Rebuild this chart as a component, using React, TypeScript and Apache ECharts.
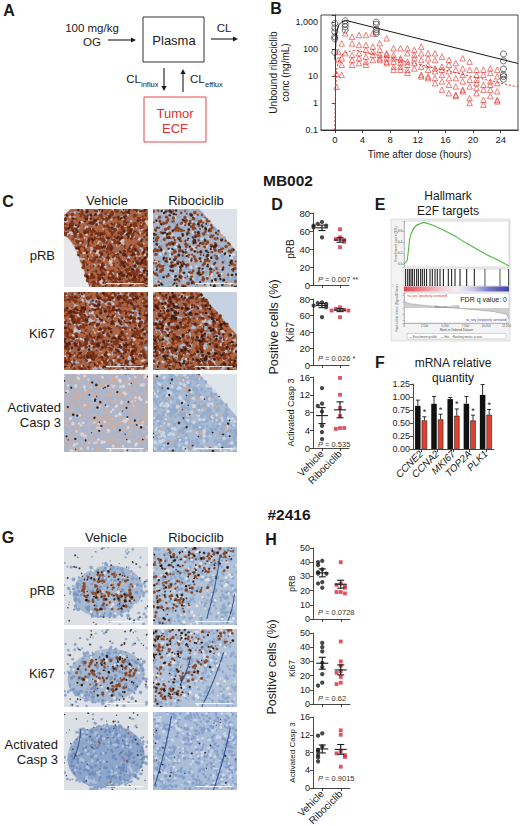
import React, { useEffect, useRef } from 'react';
import * as echarts from 'echarts';

const FONT = '"Liberation Sans", Arial, Helvetica, sans-serif';
const INK = '#1a1a1a';
const RED = '#e0322c';
const DOT_RED = '#d8283a';

// ---------------- Panel B : PK ----------------
const timeTicks = [0, 4, 8, 12, 16, 20, 24];
const concTicks = [0.1, 1, 10, 100, 1000];
const concTickLabels = ['0.1', '1', '10', '100', '1,000'];
const plasmaTimes = [0, 0, 0, 0, 0, 0, 1.5, 1.5, 1.5, 1.5, 6, 6, 6, 6, 6, 24.4, 24.4, 24.4, 24.4, 24.4, 24.4];
const plasmaConc = [880, 600, 430, 280, 240, 75, 1100, 830, 660, 500, 980, 820, 520, 430, 370, 65, 36, 18, 11, 9.5, 7.5];
const tumorTimes = [0.25, 0.5, 1, 1.5, 2.5, 3.5, 4.5, 5.5, 6.5, 7.5, 8.5, 9.5, 10.5, 11.5, 12.5, 13.5, 14.5, 15.5, 16.5, 17.5, 18.5, 19.5, 20.5, 21.5, 22.5, 23.5];
const tumorConc: number[][] = [
  [4, 12], [39, 80], [160, 45, 26, 11], [380, 70], [284, 160, 60, 39, 26], [327, 140, 69, 45, 30],
  [327, 140, 92, 52, 34, 26], [377, 122, 80, 60, 39], [162, 92, 60, 45, 39], [247, 69, 60, 45, 34, 30],
  [106, 60, 45, 34, 22, 17], [106, 45, 39, 30, 22, 17], [106, 69, 34, 26, 17, 13], [92, 60, 45, 30, 19],
  [122, 69, 39, 22, 11, 9.6], [69, 45, 26, 17, 9.6, 8.3], [69, 39, 19, 15, 8.3, 5.4], [52, 22, 17, 11, 6.3, 3.1],
  [39, 26, 15, 8.3, 4.7, 2.3], [30, 17, 8.3, 4.1, 2.0, 1.8], [45, 19, 11, 6.3, 3.1, 2.7], [34, 17, 7.2, 4.1, 1.5, 1.0],
  [17, 11, 7.2, 5.4, 3.6, 2.3], [17, 11, 4.7, 3.1, 1.3, 0.87], [19, 13, 6.3, 4.7, 3.1, 1.8], [17, 9.6, 5.4, 2.7, 1.3, 1.15],
];
const plasmaFitT = [0, 0.25, 0.6, 1, 1.5, 26.5];
const plasmaFitC = [40, 400, 800, 1000, 1150, 29];
const tumorFitT = [0, 0.05, 0.15, 0.3, 0.6, 1, 2, 3, 26.5];
const tumorFitC = [0.1, 1, 5, 20, 40, 60, 80, 90, 3.9];

// ---------------- Panels D / H : dot plots ----------------
const groups = ['Vehicle', 'Ribociclib'];
const mbPrbVeh = [70, 68, 66, 66, 64, 53];
const mbPrbRib = [62, 53, 51, 50, 48, 42];
const mbPrbMean = [63.5, 50];
const mbPrbSem = [3, 2.5];
const mbKiVeh = [76, 75, 74, 72, 70, 58];
const mbKiRib = [70, 68, 67, 66, 66, 58];
const mbKiMean = [72, 66.5];
const mbKiSem = [2.5, 1.8];
const mbCaspVeh = [13.5, 10, 9.5, 8.2, 5, 3.6, 2];
const mbCaspRib = [15.8, 12, 9, 7.2, 4.5, 4.3, 4.5];
const mbCaspMean = [7.3, 8.6];
const mbCaspSem = [1.8, 1.8];

const pdxPrbVeh = [41, 40, 38, 35, 33, 32, 32, 26, 25, 22];
const pdxPrbRib = [40, 25, 24, 23, 22, 19, 19, 18];
const pdxPrbMean = [32.5, 24.5];
const pdxPrbSem = [2.8, 2.8];
const pdxKiVeh = [43, 40, 37, 29, 26, 21, 15, 13];
const pdxKiRib = [44, 30, 27, 23, 22, 19, 15, 14];
const pdxKiMean = [28.7, 24];
const pdxKiSem = [4.2, 3.5];
const pdxCaspVeh = [12.3, 11.8, 9.3, 8.6, 8.2, 7.4, 6.9, 6];
const pdxCaspRib = [13, 12, 8.2, 7.8, 7.4, 7, 4.8];
const pdxCaspMean = [8.8, 8.7];
const pdxCaspSem = [0.9, 1.1];

// ---------------- Panel E : GSEA ----------------
const esRank = [0, 203, 365, 528, 732, 1016, 1422, 1951, 2357, 2966, 4186, 5811, 7843, 9874, 11500, 12800];
const esScore = [0, 0.04, 0.06, 0.24, 0.48, 0.6, 0.69, 0.73, 0.75, 0.73, 0.66, 0.54, 0.36, 0.19, 0.07, -0.03];
const hitRanks = [200, 450, 650, 850, 1020, 1260, 1545, 1750, 2030, 2235, 2480, 2760, 3170, 3450, 3780, 4060, 4390, 4800, 5400, 5810, 6220, 6830, 7640, 8570, 9870, 11700, 12740];
const metricRank = [0, 200, 640, 1920, 3840, 6080, 8320, 10880, 12480, 12800];
const metricValue = [0.7, 0.45, 0.35, 0.25, 0.12, 0, -0.12, -0.28, -0.5, -0.9];
const rankTicks = [0, 2500, 5000, 7500, 10000, 12500];

// ---------------- Panel F : qPCR ----------------
const genes = ['CCNE2', 'CCNA2', 'MKI67', 'TOP2A', 'PLK1'];
const vehicleRel = [0.83, 0.87, 0.96, 0.87, 1.04];
const vehicleErr = [0.11, 0.14, 0.03, 0.14, 0.2];
const riboRel = [0.55, 0.57, 0.64, 0.55, 0.66];
const riboErr = [0.07, 0.1, 0.13, 0.1, 0.1];

// ---------------- IHC tile styles ----------------
type Cell = [string, number, number, string];
type TileSpec = { seed: number; base: string; tissue: string; region: string; ell?: number[]; cells: Cell[]; lines?: number[][]; lineColor?: string };
const tilesC: TileSpec[] = [
  { seed: 11, base: '#e8e8eb', tissue: '#a3664e', region: 'cutBL', cells: [['#b5c2d6', 220, 1.6, 't'], ['#dcc6b6', 160, 1.4, 't'], ['#7e3419', 560, 1.6, 't'], ['#55200f', 240, 1.3, 't'], ['#b0653f', 200, 1.6, 't']] },
  { seed: 12, base: '#dde2ea', tissue: '#a4b5cc', region: 'cutTR', cells: [['#8ea5c4', 260, 1.6, 't'], ['#cfd8e4', 150, 1.4, 't'], ['#c9a592', 110, 1.4, 't'], ['#8a4222', 230, 1.4, 't'], ['#8a4222', 150, 1.4, 'tl'], ['#3a2418', 190, 1.2, 't']] },
  { seed: 13, base: '#e6e6ea', tissue: '#a3644d', region: 'full', cells: [['#a9b8d2', 300, 1.7, 't'], ['#dcc6b6', 120, 1.4, 't'], ['#7e3419', 560, 1.6, 't'], ['#55200f', 240, 1.3, 't'], ['#b0653f', 180, 1.6, 't']] },
  { seed: 14, base: '#c6d1e2', tissue: '#a46b57', region: 'cutTR', cells: [['#a9b8d2', 260, 1.7, 't'], ['#dcc6b6', 100, 1.4, 't'], ['#7e3419', 520, 1.6, 't'], ['#3a1c10', 240, 1.3, 't'], ['#b0653f', 170, 1.6, 't']] },
  { seed: 15, base: '#dcdde5', tissue: '#b6b5c3', region: 'full', cells: [['#a6b6d0', 420, 1.8, 't'], ['#c8b0a6', 180, 1.8, 't'], ['#dcd5d8', 100, 1.5, 't'], ['#2d2320', 45, 1.0, 't']] },
  { seed: 16, base: '#dfe3ea', tissue: '#a9bad3', region: 'cutTR', cells: [['#95abcc', 420, 1.7, 't'], ['#ccd6e5', 160, 1.6, 't'], ['#c4aaa0', 50, 1.5, 't'], ['#2d2320', 35, 1.0, 't']] },
];
const tilesG: TileSpec[] = [
  { seed: 21, base: '#dde1e5', tissue: '#a7b9d1', region: 'ellipse', ell: [0.52, 0.57, 0.42, 0.33], cells: [['#8ea6c8', 70, 1.2, 'a'], ['#3a3a42', 55, 0.8, 'a'], ['#8aa3c8', 200, 1.5, 'e'], ['#7c96c0', 200, 1.4, 't'], ['#e4e2e0', 60, 1.3, 't'], ['#8a4a2a', 260, 1.4, 'c'], ['#2b1a12', 150, 1.1, 'c'], ['#d0b090', 50, 1.1, 'c']] },
  { seed: 22, base: '#d8e0ea', tissue: '#b2c3da', region: 'full', cells: [['#8ea8cc', 330, 1.4, 't'], ['#e6e4e2', 90, 1.3, 't'], ['#8a4a2a', 220, 1.3, 'tl'], ['#2b1a12', 140, 1.0, 'tl']], lines: [[0.8, 0.1, 0.64, 0.92], [0.97, 0.6, 0.88, 0.98]], lineColor: '#2d4f8a' },
  { seed: 23, base: '#dde1e5', tissue: '#a7b9d1', region: 'ellipse', ell: [0.5, 0.6, 0.46, 0.34], cells: [['#8ea6c8', 70, 1.2, 'a'], ['#3a3a42', 55, 0.8, 'a'], ['#8aa3c8', 200, 1.5, 'e'], ['#7c96c0', 220, 1.4, 't'], ['#e4e2e0', 60, 1.3, 't'], ['#8a4a2a', 200, 1.4, 'c'], ['#2b1a12', 110, 1.1, 'c']] },
  { seed: 24, base: '#d8e0ea', tissue: '#b2c3da', region: 'full', cells: [['#8ea8cc', 330, 1.4, 't'], ['#e6e4e2', 90, 1.3, 't'], ['#8a4a2a', 220, 1.3, 'tl'], ['#2b1a12', 140, 1.0, 'tl']], lines: [[0.84, 0.3, 0.58, 1.0], [0.45, 0.35, 0.32, 0.72]], lineColor: '#2d4f8a' },
  { seed: 25, base: '#dbe0e5', tissue: '#8ea6c9', region: 'ellipse', ell: [0.5, 0.57, 0.46, 0.4], cells: [['#3a3a42', 55, 0.8, 'a'], ['#8ea6c8', 60, 1.2, 'a'], ['#8aa3c8', 200, 1.5, 'e'], ['#6f8bbb', 380, 1.3, 't'], ['#b0c2dc', 150, 1.3, 't'], ['#8a5a4a', 20, 1.1, 't']], lines: [[0.2, 0.22, 0.12, 0.6]], lineColor: '#2d4f8a' },
  { seed: 26, base: '#d6dfea', tissue: '#a9bdd9', region: 'full', cells: [['#86a0cb', 430, 1.3, 't'], ['#cdd8e7', 150, 1.3, 't'], ['#2a2a33', 25, 0.8, 't']], lines: [[0.22, 0.05, 0.02, 0.95], [0.92, 0.2, 0.72, 1.0]], lineColor: '#24478a' },
];

function lcg(seed: number) {
  let s = (seed * 2654435761) >>> 0;
  return () => {
    s = (Math.imul(s, 1664525) + 1013904223) >>> 0;
    return s / 4294967296;
  };
}

function makeTile(spec: TileSpec, w: number, h: number): string {
  const S = 3;
  const cv = document.createElement('canvas');
  cv.width = w * S;
  cv.height = h * S;
  const ctx = cv.getContext('2d');
  if (!ctx) return '';
  ctx.scale(S, S);
  const rand = lcg(spec.seed);
  ctx.fillStyle = spec.base;
  ctx.fillRect(0, 0, w, h);
  const ell = spec.ell || [0.5, 0.5, 0.5, 0.5];
  const inEll = (x: number, y: number, k: number) => {
    const dx = (x / w - ell[0]) / (ell[2] * k), dy = (y / h - ell[1]) / (ell[3] * k);
    return dx * dx + dy * dy <= 1;
  };
  const inside = (x: number, y: number): boolean => {
    const u = x / w, v = y / h;
    if (spec.region === 'full') return true;
    if (spec.region === 'cutBL') return !(v > 0.34 && u < 0.3 * Math.pow((v - 0.34) / 0.66, 0.6)) && !(u < 0.08 && v < 0.08);
    if (spec.region === 'cutTR') return !(v < 0.55 * (u - 0.55) / 0.45);
    return inEll(x, y, 1);
  };
  // tissue
  ctx.save();
  ctx.beginPath();
  if (spec.region === 'full') ctx.rect(0, 0, w, h);
  else if (spec.region === 'cutBL') {
    ctx.moveTo(0.08 * w, 0); ctx.lineTo(w, 0); ctx.lineTo(w, h);
    for (let i = 20; i >= 0; i--) {
      const v = 0.34 + 0.66 * (i / 20);
      const u = 0.3 * Math.pow((v - 0.34) / 0.66, 0.6);
      ctx.lineTo(u * w, v * h);
    }
    ctx.lineTo(0, 0.08 * h);
    ctx.closePath();
  } else if (spec.region === 'cutTR') {
    ctx.moveTo(0, 0); ctx.lineTo(0.55 * w, 0); ctx.lineTo(w, 0.55 * h); ctx.lineTo(w, h); ctx.lineTo(0, h); ctx.closePath();
  } else {
    ctx.ellipse(ell[0] * w, ell[1] * h, ell[2] * w, ell[3] * h, -0.15, 0, Math.PI * 2);
  }
  ctx.fillStyle = spec.tissue;
  ctx.fill();
  ctx.restore();
  // cells
  spec.cells.forEach(([color, n, size, where]) => {
    ctx.fillStyle = color;
    for (let i = 0; i < n; i++) {
      const x = rand() * w, y = rand() * h;
      const r = size * (0.65 + rand() * 0.7);
      const ok = where === 'a' ? true
        : where === 't' ? inside(x, y)
        : where === 'e' ? inEll(x, y, 1.12) && !inEll(x, y, 0.85)
        : where === 'tl' ? inside(x, y) && (x / w + y / h * 0.85 < 0.95 + rand() * 0.2)
        : inEll(x, y, 0.8);
      if (!ok) continue;
      ctx.beginPath();
      ctx.ellipse(x, y, r, r * (0.75 + rand() * 0.3), rand() * 3, 0, Math.PI * 2);
      ctx.fill();
    }
  });
  // folds
  (spec.lines || []).forEach((l) => {
    ctx.strokeStyle = spec.lineColor || '#2b4a86';
    ctx.lineWidth = 1.0;
    ctx.beginPath();
    ctx.moveTo(l[0] * w, l[1] * h);
    ctx.quadraticCurveTo(((l[0] + l[2]) / 2 + 0.03) * w, ((l[1] + l[3]) / 2) * h, l[2] * w, l[3] * h);
    ctx.stroke();
  });
  // scale bar
  ctx.strokeStyle = 'rgba(255,255,255,0.9)';
  ctx.lineWidth = 1;
  ctx.beginPath();
  ctx.moveTo(w * 0.5, h - 3.5);
  ctx.lineTo(w * 0.95, h - 3.5);
  ctx.stroke();
  return cv.toDataURL('image/png');
}

function beeswarm(vals: number[], pxPerUnit: number, step: number): number[] {
  return vals.map((v, i) => {
    let k = 0;
    for (let j = 0; j < i; j++) if (Math.abs(vals[j] - v) * pxPerUnit < 4) k++;
    return k === 0 ? 0 : (k % 2 ? -1 : 1) * Math.ceil(k / 2) * step;
  });
}

const axLine = { color: INK, width: 0.8 };

function txt(x: number, y: number, text: string, size: number, opts: any = {}) {
  return {
    type: 'text', x, y, rotation: opts.rotation || 0, z: 10, silent: true,
    style: {
      text, fontSize: size, fontFamily: FONT, fontWeight: opts.weight || 'normal', fontStyle: opts.style || 'normal',
      fill: opts.color || INK, align: opts.align || 'center', textAlign: opts.align || 'center',
      verticalAlign: opts.valign || 'middle', textVerticalAlign: opts.valign || 'middle', lineHeight: opts.lineHeight,
    },
  };
}

function arrow(x1: number, y1: number, x2: number, y2: number, color: string) {
  const L = Math.hypot(x2 - x1, y2 - y1);
  const dx = (x2 - x1) / L, dy = (y2 - y1) / L;
  const nx = -dy, ny = dx;
  const hl = 5, hw = 2.6;
  return [
    { type: 'line', z: 10, silent: true, shape: { x1, y1, x2: x2 - dx * 4, y2: y2 - dy * 4 }, style: { stroke: color, lineWidth: 1.1 } },
    { type: 'polygon', z: 10, silent: true, shape: { points: [[x2, y2], [x2 - dx * hl + nx * hw, y2 - dy * hl + ny * hw], [x2 - dx * hl - nx * hw, y2 - dy * hl - ny * hw]] }, style: { fill: color } },
  ];
}

function buildOption() {
  const grids: any[] = [];
  const xAxes: any[] = [];
  const yAxes: any[] = [];
  const series: any[] = [];
  const g: any[] = [];

  // ---------- B ----------
  grids.push({ left: 321, top: 15, width: 197, height: 115, show: true, borderColor: INK, borderWidth: 0.8, backgroundColor: 'transparent', outerBoundsMode: 'none' });
  xAxes.push({
    gridIndex: 0, type: 'value', min: -2, max: 26.5,
    axisLine: { show: true, lineStyle: axLine }, axisTick: { show: true, length: 3, customValues: timeTicks, lineStyle: axLine },
    axisLabel: { customValues: timeTicks, fontSize: 9.5, color: INK, margin: 4, fontFamily: FONT }, splitLine: { show: false },
    name: 'Time after dose (hours)', nameLocation: 'middle', nameGap: 19, nameTextStyle: { fontSize: 10, color: INK, fontFamily: FONT },
  });
  yAxes.push({
    gridIndex: 0, type: 'log', logBase: 10, min: 0.1, max: 1800,
    axisLine: { show: true, lineStyle: axLine }, axisTick: { show: true, length: 3, lineStyle: axLine },
    axisLabel: {
      fontSize: 9, color: INK, margin: 3, fontFamily: FONT,
      formatter: (v: number) => { const i = concTicks.findIndex((t) => Math.abs(t - v) / t < 1e-4); return i >= 0 ? concTickLabels[i] : ''; },
    },
    splitLine: { show: false }, minorTick: { show: false },
    name: 'Unbound ribociclib\nconc (ng/mL)', nameLocation: 'middle', nameGap: 22, nameRotate: 90,
    nameTextStyle: { fontSize: 10, color: INK, fontFamily: FONT, lineHeight: 12 },
  });
  series.push({ type: 'line', xAxisIndex: 0, yAxisIndex: 0, data: plasmaFitT.map((t, i) => [t, plasmaFitC[i]]), symbol: 'none', lineStyle: { color: INK, width: 1 }, z: 3, silent: true });
  series.push({ type: 'line', xAxisIndex: 0, yAxisIndex: 0, data: tumorFitT.map((t, i) => [t, tumorFitC[i]]), symbol: 'none', lineStyle: { color: RED, width: 1, type: [2, 2] }, z: 3, silent: true });
  series.push({ type: 'scatter', xAxisIndex: 0, yAxisIndex: 0, data: plasmaTimes.map((t, i) => [t, plasmaConc[i]]), symbol: 'circle', symbolSize: 6, itemStyle: { color: 'rgba(255,255,255,0)', borderColor: INK, borderWidth: 0.8 }, silent: true });
  series.push({ type: 'scatter', xAxisIndex: 0, yAxisIndex: 0, data: tumorTimes.flatMap((t, i) => tumorConc[i].map((v) => [t, v])), symbol: 'triangle', symbolSize: 5.5, itemStyle: { color: 'rgba(255,255,255,0)', borderColor: RED, borderWidth: 0.8 }, silent: true });

  // ---------- dot plots ----------
  const dots = [
    { top: 213, height: 72, width: 36, veh: mbPrbVeh, rib: mbPrbRib, mean: mbPrbMean, sem: mbPrbSem, max: 80, interval: 20, name: 'pRB', ns: 10, ls: 9.5, gap: 15, cats: false, p: '0.007 **', py: 279 },
    { top: 299, height: 66, width: 36, veh: mbKiVeh, rib: mbKiRib, mean: mbKiMean, sem: mbKiSem, max: 80, interval: 20, name: 'Ki67', ns: 10, ls: 9.5, gap: 15, cats: false, p: '0.026 *', py: 358 },
    { top: 377, height: 71, width: 36, veh: mbCaspVeh, rib: mbCaspRib, mean: mbCaspMean, sem: mbCaspSem, max: 16, interval: 4, name: 'Activated Casp 3', ns: 9, ls: 9.5, gap: 15, cats: true, p: '0.535', py: 444 },
    { top: 548, height: 71, width: 37, veh: pdxPrbVeh, rib: pdxPrbRib, mean: pdxPrbMean, sem: pdxPrbSem, max: 50, interval: 10, name: 'pRB', ns: 8.5, ls: 9, gap: 16, cats: false, p: '0.0728', py: 612 },
    { top: 633, height: 71, width: 37, veh: pdxKiVeh, rib: pdxKiRib, mean: pdxKiMean, sem: pdxKiSem, max: 50, interval: 10, name: 'Ki67', ns: 8.5, ls: 9, gap: 16, cats: false, p: '0.62', py: 698 },
    { top: 717, height: 71, width: 37, veh: pdxCaspVeh, rib: pdxCaspRib, mean: pdxCaspMean, sem: pdxCaspSem, max: 16, interval: 4, name: 'Activated Casp 3', ns: 8, ls: 9, gap: 16, cats: true, p: '0.9015', py: 778 },
  ];
  dots.forEach((d) => {
    const gi = grids.length;
    grids.push({ left: 313, top: d.top, width: d.width, height: d.height, outerBoundsMode: 'none' });
    xAxes.push({
      gridIndex: gi, type: 'category', data: groups, boundaryGap: true,
      axisLine: { show: true, lineStyle: axLine }, axisTick: { show: true, alignWithLabel: true, length: 3, lineStyle: axLine },
      axisLabel: { show: d.cats, rotate: 45, fontSize: 10, color: INK, margin: 4, fontFamily: FONT, interval: 0 },
      splitLine: { show: false },
    });
    yAxes.push({
      gridIndex: gi, type: 'value', min: 0, max: d.max, interval: d.interval,
      axisLine: { show: true, lineStyle: axLine }, axisTick: { show: true, length: 3, lineStyle: axLine },
      axisLabel: { fontSize: d.ls, color: INK, margin: 3, fontFamily: FONT }, splitLine: { show: false },
      name: d.name, nameLocation: 'middle', nameRotate: 90, nameGap: d.gap, nameTextStyle: { fontSize: d.ns, color: INK, fontFamily: FONT },
    });
    const ppu = d.height / d.max;
    const ov = beeswarm(d.veh, ppu, 4.2);
    const orr = beeswarm(d.rib, ppu, 4.2);
    series.push({ type: 'scatter', xAxisIndex: gi, yAxisIndex: gi, symbol: 'circle', symbolSize: 4.3, itemStyle: { color: INK }, silent: true, data: d.veh.map((v, i) => ({ value: [0, v], symbolOffset: [ov[i], 0] })) });
    series.push({ type: 'scatter', xAxisIndex: gi, yAxisIndex: gi, symbol: 'rect', symbolSize: 3.8, itemStyle: { color: DOT_RED }, silent: true, data: d.rib.map((v, i) => ({ value: [1, v], symbolOffset: [orr[i], 0] })) });
    series.push({
      type: 'custom', xAxisIndex: gi, yAxisIndex: gi, silent: true, z: 5,
      data: d.mean.map((m, i) => [i, m, d.sem[i]]),
      renderItem: (params: any, api: any) => {
        const c = api.value(0), m = api.value(1), s = api.value(2);
        const pm = api.coord([c, m]), ph = api.coord([c, m + s]), pl = api.coord([c, m - s]);
        const st = { stroke: INK, lineWidth: 1.1 };
        return {
          type: 'group', children: [
            { type: 'line', shape: { x1: pm[0] - 6, y1: pm[1], x2: pm[0] + 6, y2: pm[1] }, style: st },
            { type: 'line', shape: { x1: ph[0], y1: ph[1], x2: pl[0], y2: pl[1] }, style: st },
            { type: 'line', shape: { x1: ph[0] - 3.5, y1: ph[1], x2: ph[0] + 3.5, y2: ph[1] }, style: st },
            { type: 'line', shape: { x1: pl[0] - 3.5, y1: pl[1], x2: pl[0] + 3.5, y2: pl[1] }, style: st },
          ],
        };
      },
    });
    g.push({
      type: 'text', x: 318, y: d.py, z: 10, silent: true,
      style: {
        text: '{i|P} = ' + d.p, fontSize: 7.5, fontFamily: FONT, fill: '#333', verticalAlign: 'middle', textVerticalAlign: 'middle',
        rich: { i: { fontStyle: 'italic', fontSize: 7.5, fontFamily: FONT, fill: '#333', color: '#333' } },
      },
    });
  });

  // ---------- E : GSEA ----------
  g.push({ type: 'rect', z: -1, silent: true, shape: { x: 391, y: 219, width: 119, height: 122 }, style: { fill: '#f3f3f3', stroke: '#cfcfcf', lineWidth: 0.6 } });
  const esG = grids.length;
  grids.push({ left: 404, top: 221, width: 105, height: 46, show: true, backgroundColor: '#fff', borderColor: '#b5b5b5', borderWidth: 0.5, outerBoundsMode: 'none' });
  xAxes.push({ gridIndex: esG, type: 'value', min: 0, max: 12800, show: false });
  yAxes.push({
    gridIndex: esG, type: 'value', min: -0.05, max: 0.78,
    axisLine: { show: true, lineStyle: { color: '#888', width: 0.5 } }, axisTick: { show: true, length: 1.5, lineStyle: { color: '#888', width: 0.5 } },
    axisLabel: { fontSize: 3.5, color: '#555', margin: 1.5, formatter: (v: number) => (Math.abs(v * 10 - Math.round(v * 10)) < 1e-6 ? v.toFixed(1) : '') },
    splitLine: { show: false },
  });
  series.push({ type: 'line', xAxisIndex: esG, yAxisIndex: esG, data: esRank.map((r, i) => [r, esScore[i]]), symbol: 'none', smooth: 0.3, lineStyle: { color: '#4db845', width: 1.1 }, silent: true });

  const hitG = grids.length;
  grids.push({ left: 404, top: 269, width: 105, height: 17, show: true, backgroundColor: '#fff', borderColor: '#b5b5b5', borderWidth: 0.5, outerBoundsMode: 'none' });
  xAxes.push({ gridIndex: hitG, type: 'value', min: 0, max: 12800, show: false });
  yAxes.push({ gridIndex: hitG, type: 'value', min: 0, max: 1, show: false });
  series.push({
    type: 'custom', xAxisIndex: hitG, yAxisIndex: hitG, silent: true,
    data: hitRanks.map((r) => [r]),
    renderItem: (params: any, api: any) => {
      const r = api.value(0);
      const p0 = api.coord([r, 0]), p1 = api.coord([r, 1]);
      return { type: 'line', shape: { x1: p0[0], y1: p0[1], x2: p1[0], y2: p1[1] }, style: { stroke: r > 9000 ? '#555' : '#111', lineWidth: 1 } };
    },
  });
  g.push({
    type: 'rect', z: 5, silent: true, shape: { x: 404, y: 286.5, width: 105, height: 5 },
    style: {
      fill: new echarts.graphic.LinearGradient(0, 0, 1, 0, [
        { offset: 0, color: '#e0484c' }, { offset: 0.2, color: '#ec8e96' }, { offset: 0.38, color: '#f6d2d8' },
        { offset: 0.5, color: '#f4f2f6' }, { offset: 0.66, color: '#c5c6e6' }, { offset: 0.8, color: '#7a7cca' }, { offset: 1, color: '#3e3fa8' },
      ]),
    },
  });
  const mG = grids.length;
  grids.push({ left: 404, top: 293, width: 105, height: 30, show: true, backgroundColor: '#fff', borderColor: '#b5b5b5', borderWidth: 0.5, outerBoundsMode: 'none' });
  xAxes.push({
    gridIndex: mG, type: 'value', min: 0, max: 12800,
    axisLine: { show: true, onZero: false, lineStyle: { color: '#888', width: 0.5 } }, axisTick: { show: true, length: 1.2, customValues: rankTicks, lineStyle: { color: '#888', width: 0.5 } },
    axisLabel: { customValues: rankTicks, fontSize: 3, color: '#555', margin: 1, formatter: (v: number) => v.toLocaleString('en-US') },
    splitLine: { show: false },
    name: 'Rank in Ordered Dataset', nameLocation: 'middle', nameGap: 4.5, nameTextStyle: { fontSize: 3, color: '#444' },
  });
  yAxes.push({
    gridIndex: mG, type: 'value', min: -1.2, max: 1.2,
    axisLine: { show: true, lineStyle: { color: '#888', width: 0.5 } }, axisTick: { show: true, length: 1.5, lineStyle: { color: '#888', width: 0.5 } },
    axisLabel: { show: false }, splitLine: { show: false },
  });
  series.push({
    type: 'line', xAxisIndex: mG, yAxisIndex: mG, data: metricRank.map((r, i) => [r, metricValue[i]]), symbol: 'none',
    lineStyle: { color: '#8a8a8a', width: 0.5 }, areaStyle: { color: '#b9b9b9', origin: 0 }, silent: true,
  });
  g.push(txt(396, 244, 'Enrichment score (ES)', 3.5, { rotation: Math.PI / 2, color: '#555' }));
  g.push(txt(397, 308, 'Ranked list metric (Signal2Noise)', 3.2, { rotation: Math.PI / 2, color: '#555' }));
  g.push(txt(507, 299, 'FDR q value: 0', 7, { align: 'right' }));
  g.push(txt(407, 295.5, "'na_pos' (positively correlated)", 3, { align: 'left', color: '#d03030' }));
  g.push(txt(447, 307, 'Zero cross at 6080', 3, { color: '#555' }));
  g.push(txt(507, 319.5, "'na_neg' (negatively correlated)", 3, { align: 'right', color: '#3535b0' }));
  g.push({ type: 'rect', z: 10, silent: true, shape: { x: 407, y: 333.5, width: 99, height: 5.5 }, style: { fill: '#fff', stroke: '#999', lineWidth: 0.4 } });
  g.push(txt(409, 336.3, '— Enrichment profile    — Hits    Ranking metric scores', 3, { align: 'left', color: '#555' }));

  // ---------- F ----------
  const fG = grids.length;
  grids.push({ left: 413, top: 384, width: 81, height: 65, outerBoundsMode: 'none' });
  xAxes.push({
    gridIndex: fG, type: 'category', data: genes,
    axisLine: { show: true, lineStyle: axLine }, axisTick: { show: true, alignWithLabel: true, length: 3, lineStyle: axLine },
    axisLabel: { rotate: 45, fontSize: 10, fontStyle: 'italic', color: INK, margin: 3, fontFamily: FONT, interval: 0 },
  });
  yAxes.push({
    gridIndex: fG, type: 'value', min: 0, max: 1.25, interval: 0.25,
    axisLine: { show: true, lineStyle: axLine }, axisTick: { show: true, length: 3, lineStyle: axLine },
    axisLabel: { fontSize: 9, color: INK, margin: 3, fontFamily: FONT, formatter: (v: number) => v.toFixed(2) }, splitLine: { show: false },
  });
  series.push({ type: 'bar', xAxisIndex: fG, yAxisIndex: fG, data: vehicleRel, barWidth: 5.5, barGap: '20%', itemStyle: { color: '#111' }, silent: true });
  series.push({ type: 'bar', xAxisIndex: fG, yAxisIndex: fG, data: riboRel, barWidth: 5.5, barGap: '20%', itemStyle: { color: '#e2402e', borderColor: '#222', borderWidth: 0.6 }, silent: true });
  [0, 1].forEach((k) => {
    const vals = k === 0 ? vehicleRel : riboRel;
    const errs = k === 0 ? vehicleErr : riboErr;
    series.push({
      type: 'custom', xAxisIndex: fG, yAxisIndex: fG, silent: true, z: 5,
      data: vals.map((v, i) => [i, v, errs[i]]),
      renderItem: (params: any, api: any) => {
        const c = api.value(0), v = api.value(1), e = api.value(2);
        const off = k === 0 ? -3.3 : 3.3;
        const p0 = api.coord([c, v]), p1 = api.coord([c, v + e]);
        const x = p0[0] + off;
        const st = { stroke: INK, lineWidth: 0.9 };
        const children: any[] = [
          { type: 'line', shape: { x1: x, y1: p0[1], x2: x, y2: p1[1] }, style: st },
          { type: 'line', shape: { x1: x - 2, y1: p1[1], x2: x + 2, y2: p1[1] }, style: st },
        ];
        if (k === 1) children.push({ type: 'text', x: x, y: p1[1] - 4.5, style: { text: '*', fontSize: 9, fontFamily: FONT, fill: INK, align: 'center', verticalAlign: 'middle' } });
        return { type: 'group', children };
      },
    });
  });

  // ---------- A : diagram ----------
  g.push(txt(92, 28, '100 mg/kg', 11.5));
  g.push(txt(92, 42, 'OG', 11.5));
  g.push(...arrow(108, 40, 136, 40, INK));
  g.push({ type: 'rect', z: 10, silent: true, shape: { x: 143, y: 17, width: 61, height: 45 }, style: { fill: 'none', stroke: '#333', lineWidth: 1 } });
  g.push(txt(174, 40, 'Plasma', 13));
  g.push(...arrow(211, 39, 238, 39, INK));
  g.push(txt(224, 28, 'CL', 11.5));
  g.push(...arrow(164, 68, 164, 91, INK));
  g.push(...arrow(183, 92, 183, 69, INK));
  g.push(txt(141, 79, 'CL', 11.5, { align: 'right' }));
  g.push(txt(141, 84, 'influx', 7.5, { align: 'left' }));
  g.push(txt(190, 79, 'CL', 11.5, { align: 'left' }));
  g.push(txt(205, 84, 'efflux', 7.5, { align: 'left' }));
  g.push({ type: 'rect', z: 10, silent: true, shape: { x: 144, y: 97, width: 62, height: 45 }, style: { fill: 'none', stroke: '#e04848', lineWidth: 1 } });
  g.push(txt(175, 113, 'Tumor', 13, { color: '#e03030' }));
  g.push(txt(175, 128, 'ECF', 13, { color: '#e03030' }));

  // ---------- panel letters & titles ----------
  const L = (x: number, y: number, s: string) => txt(x, y, s, 16, { weight: 'bold' });
  g.push(L(9, 10, 'A'), L(276, 8, 'B'), L(8, 201, 'C'), L(277, 204, 'D'), L(380, 204, 'E'), L(380, 362, 'F'), L(8, 537, 'G'), L(271, 539, 'H'));
  g.push(txt(288, 180, 'MB002', 15.5, { weight: 'bold' }));
  g.push(txt(289, 514, '#2416', 15.5, { weight: 'bold' }));
  g.push(txt(448, 196, 'Hallmark', 12));
  g.push(txt(448, 211, 'E2F targets', 12));
  g.push(txt(453, 363, 'mRNA relative', 12));
  g.push(txt(453, 378, 'quantity', 12));
  g.push(txt(274, 327, 'Positive cells (%)', 12.5, { rotation: Math.PI / 2 }));
  g.push(txt(272, 667, 'Positive cells (%)', 12.5, { rotation: Math.PI / 2 }));

  // ---------- C / G : IHC tiles ----------
  const colX = [64, 153];
  const rowsC = [209, 292, 374];
  const rowsG = [547, 629, 712];
  tilesC.forEach((t, i) => {
    g.push({ type: 'image', z: 1, silent: true, x: colX[i % 2], y: rowsC[Math.floor(i / 2)], style: { image: makeTile(t, 84, 78), width: 84, height: 78 } });
  });
  tilesG.forEach((t, i) => {
    g.push({ type: 'image', z: 1, silent: true, x: colX[i % 2], y: rowsG[Math.floor(i / 2)], style: { image: makeTile(t, 84, 78), width: 84, height: 78 } });
  });
  g.push(txt(107, 200, 'Vehicle', 13), txt(196, 200, 'Ribociclib', 13));
  g.push(txt(106, 537, 'Vehicle', 13), txt(196, 537, 'Ribociclib', 13));
  g.push(txt(55, 255, 'pRB', 13, { align: 'right' }), txt(55, 333, 'Ki67', 13, { align: 'right' }));
  g.push(txt(61, 415, 'Activated\nCasp 3', 13, { align: 'right', lineHeight: 15 }));
  g.push(txt(55, 590, 'pRB', 13, { align: 'right' }), txt(55, 673, 'Ki67', 13, { align: 'right' }));
  g.push(txt(58, 752, 'Activated\nCasp 3', 13, { align: 'right', lineHeight: 15 }));

  return {
    animation: false,
    backgroundColor: '#fff',
    textStyle: { fontFamily: FONT },
    grid: grids,
    xAxis: xAxes,
    yAxis: yAxes,
    series,
    graphic: { elements: g },
  };
}

export default function App() {
  const ref = useRef<HTMLDivElement>(null);
  useEffect(() => {
    if (!ref.current) return;
    const chart = echarts.init(ref.current, null, { renderer: 'svg' });
    chart.setOption(buildOption());
    return () => chart.dispose();
  }, []);
  return <div ref={ref} style={{ position: 'absolute', left: 0, top: 0, width: 520, height: 826, background: '#fff' }} />;
}
